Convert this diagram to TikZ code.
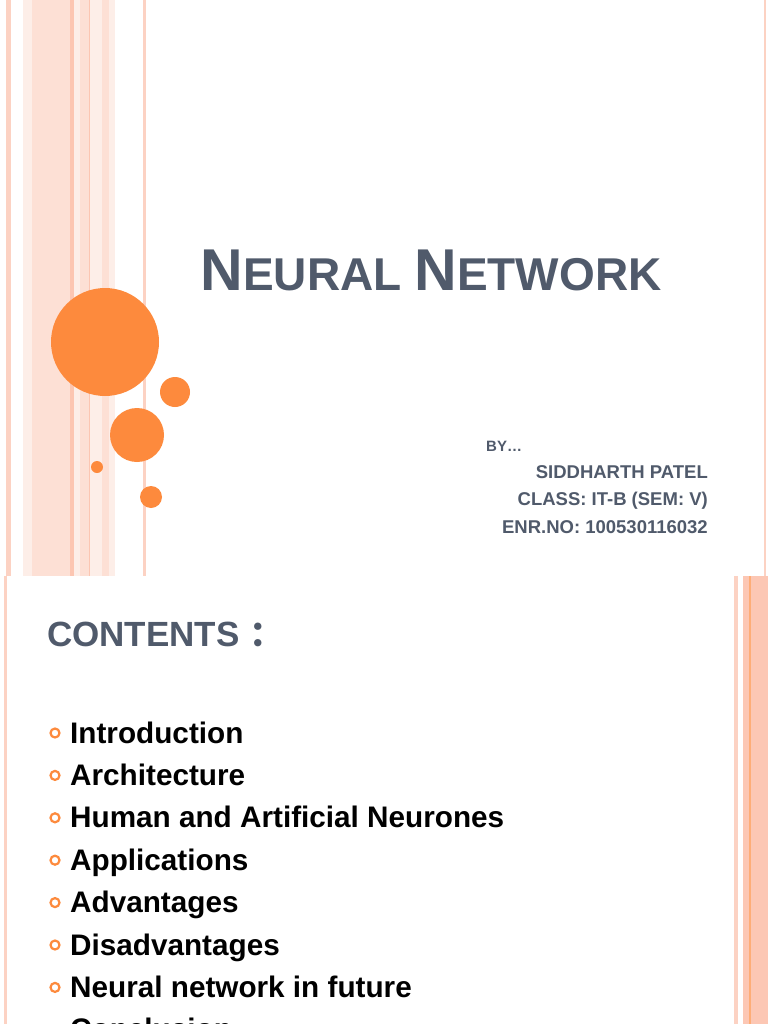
\documentclass[tikz,border=0pt]{standalone}
\usepackage{fontspec}
\setmainfont{Liberation Sans}
\newfontfamily\cjk{Noto Sans CJK SC}
\definecolor{org}{HTML}{FD8A3D}
\definecolor{slate}{HTML}{505A6B}
\definecolor{pk1}{HTML}{FCD2C3}
\definecolor{pk2}{HTML}{FDEEE8}
\definecolor{pk3}{HTML}{FDE0D5}
\definecolor{pk4}{HTML}{FCC6B2}
\definecolor{pk5}{HTML}{FCC7B4}
\begin{document}
\begin{tikzpicture}[x=1pt,y=-1pt,
  item/.style={anchor=base west,font=\fontsize{29.7}{32}\selectfont\bfseries,inner sep=0},
  ring/.style={draw=org,line width=2.2pt,circle,minimum size=9pt,inner sep=0},
  dot/.style={fill=org,circle,inner sep=0}]
\clip (0,0) rectangle (768,1024);
\fill[white] (0,0) rectangle (768,1024);
% top slide stripes
\fill[pk1] (6,0) rectangle (11,576);
\fill[pk2] (23,0) rectangle (32,576);
\fill[pk3] (32,0) rectangle (70,576);
\fill[pk4] (70,0) rectangle (74,576);
\fill[pk2] (74,0) rectangle (80,576);
\fill[pk3] (80,0) rectangle (89,576);
\fill[pk4] (89,0) rectangle (90,576);
\fill[pk2] (90,0) rectangle (102,576);
\fill[pk3] (102,0) rectangle (109,576);
\fill[pk2] (109,0) rectangle (115,576);
\fill[pk1] (143,0) rectangle (146,576);
\fill[pk1] (764,0) rectangle (766,576);
% bottom slide stripes
\fill[pk1] (4,576) rectangle (7,1024);
\fill[pk1] (734,576) rectangle (738,1024);
\fill[pk5] (743,576) rectangle (768,1024);
\fill[org!70] (749,576) rectangle (750.5,1024);
% circles
\node[dot,minimum size=108pt] (c1) at (105,342) {};
\node[dot,minimum size=30pt] (c2) at (175,392) {};
\node[dot,minimum size=54pt] (c3) at (137,435) {};
\node[dot,minimum size=12pt] (c4) at (97,467) {};
\node[dot,minimum size=22pt] (c5) at (151,497) {};
% title
\node[text=slate,anchor=base,font=\bfseries] (title) at (431,290) {\fontsize{59}{60}\selectfont N\fontsize{46}{50}\selectfont EURAL \fontsize{59}{60}\selectfont N\fontsize{46}{50}\selectfont ETWORK};
\node[text=slate,anchor=base west,inner sep=0,font=\fontsize{15}{16}\selectfont\bfseries] (by) at (486,451) {BY…};
\node[text=slate,anchor=base east,inner sep=0,font=\fontsize{18.5}{20}\selectfont\bfseries] (n1) at (708,478) {SIDDHARTH PATEL};
\node[text=slate,anchor=base east,inner sep=0,font=\fontsize{18.5}{20}\selectfont\bfseries] (n2) at (708,505) {CLASS: IT-B (SEM: V)};
\node[text=slate,anchor=base east,inner sep=0,font=\fontsize{18.5}{20}\selectfont\bfseries] (n3) at (708,533) {ENR.NO: 100530116032};
% contents
\node[text=slate,anchor=base west,inner sep=0,font=\fontsize{35}{38}\selectfont\bfseries] (ct) at (47,646) {CONTENTS {\cjk ：}};
\foreach \t [count=\i] in {Introduction,Architecture,Human and Artificial Neurones,Applications,Advantages,Disadvantages,Neural network  in future,Conclusion}{
  \node[ring] (r\i) at (55,{733+42.4*(\i-1)}) {};
  \node[item] (t\i) at (70,{743+42.4*(\i-1)}) {\t};
}
\end{tikzpicture}
\end{document}
